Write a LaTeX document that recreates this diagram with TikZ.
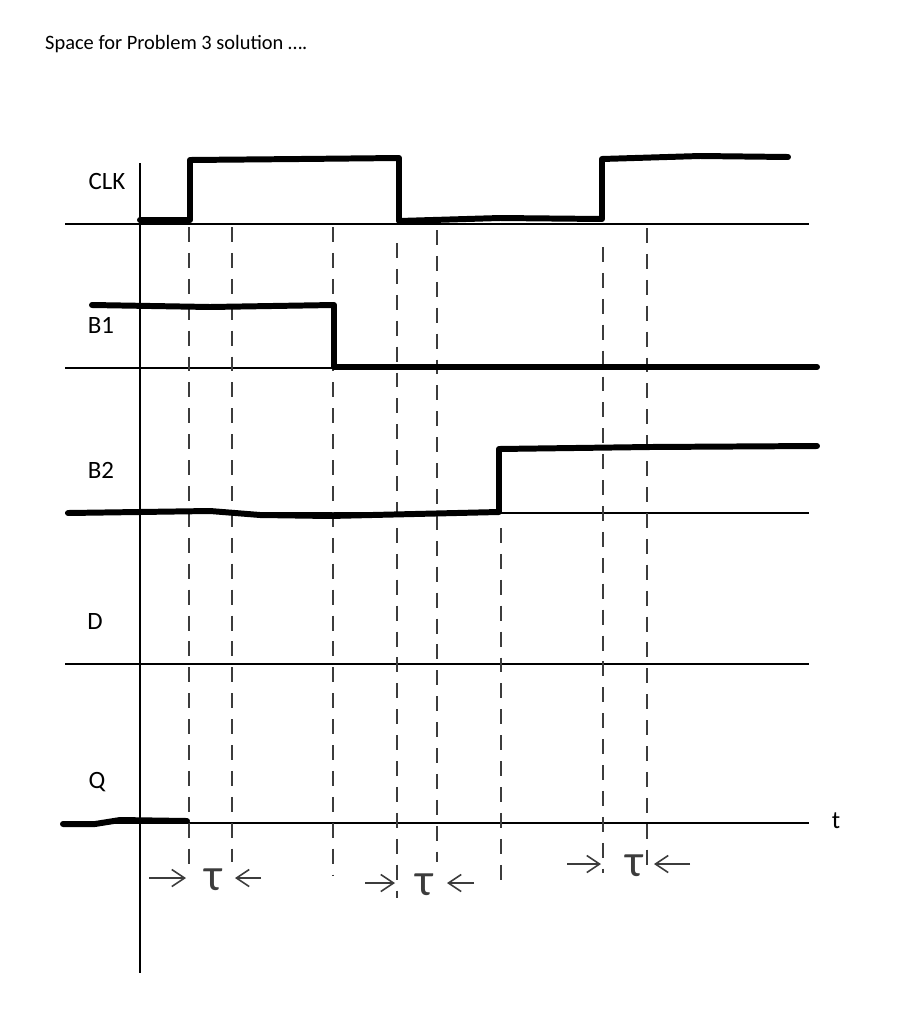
\documentclass[tikz,border=0pt]{standalone}
\usepackage{fontspec}
\setmainfont{Carlito}
\usepackage{tikz}
\usetikzlibrary{arrows.meta}
\definecolor{inkc}{HTML}{000000}
\definecolor{penc}{HTML}{3C3C3C}
\tikzset{
  axl/.style={line width=1.6pt,inkc},
  sig/.style={line width=6pt,inkc,line cap=round,line join=round},
  guide/.style={line width=2.2pt,penc,dash pattern=on 15pt off 11pt},
  tarr/.style={-{Straight Barb[length=4.5mm,width=6mm,line width=1.6pt]},line width=1.6pt,penc},
  lbl/.style={font=\fontsize{25}{30}\selectfont,inner sep=0pt,anchor=base},
  taul/.style={font=\fontsize{46}{50}\selectfont,inner sep=0pt,penc}
}
\begin{document}
\begin{tikzpicture}[x=1bp,y=-1bp]
\useasboundingbox (0,0) rectangle (909,1024);
\node[font=\fontsize{20.5}{24}\selectfont,inner sep=0pt,anchor=base west] (title) at (45,49) {Space for Problem 3 solution ….};
\draw[axl] (140,163)--(140,973);
\foreach \y/\name/\lx in {224/CLK/107,368/B1/101,513/B2/101,664/D/95,823/Q/97}{
 \draw[axl] (65,\y)--(809,\y);
 \node[lbl] (l\name) at (\lx,\y-35) {\name};}
\node[lbl] (lt) at (836,828) {t};
\foreach \x/\ya/\yb in {189/227/873,232/227/862,333/227/876,397/243/898,437/230/862,501/528/890,603/247/873,647/228/865}
 \draw[guide] (\x,\ya)--(\x,\yb);
\draw[sig] (140,220)--(190,220)--(190,160)--(300,159)--(399,158)--(399,221)--(500,218)--(602,219)--(602,159)--(700,156)--(788,157);
\draw[sig] (92,305)--(210,307)--(334,305)--(334,367)--(817,367);
\draw[sig] (68,513)--(210,511)--(260,515)--(330,516)--(499,512)--(499,449)--(650,447)--(817,446);
\draw[sig] (63,824)--(95,824)--(120,820)--(187,821);
\foreach \xa/\xb/\xc/\xd/\yt/\xt [count=\i] in {149/186/235/261/878/213,365/395/447/474/883/424,567/601/654/690/864/634}{
 \coordinate (ra\i) at (\xa,\yt); \coordinate (rb\i) at (\xb,\yt);
 \coordinate (la\i) at (\xd,\yt); \coordinate (lb\i) at (\xc,\yt);
 \draw[tarr] (ra\i)--(rb\i);
 \draw[tarr] (la\i)--(lb\i);
 \node[taul] (tau\i) at (\xt,\yt+2) {τ};}
\end{tikzpicture}
\end{document}
